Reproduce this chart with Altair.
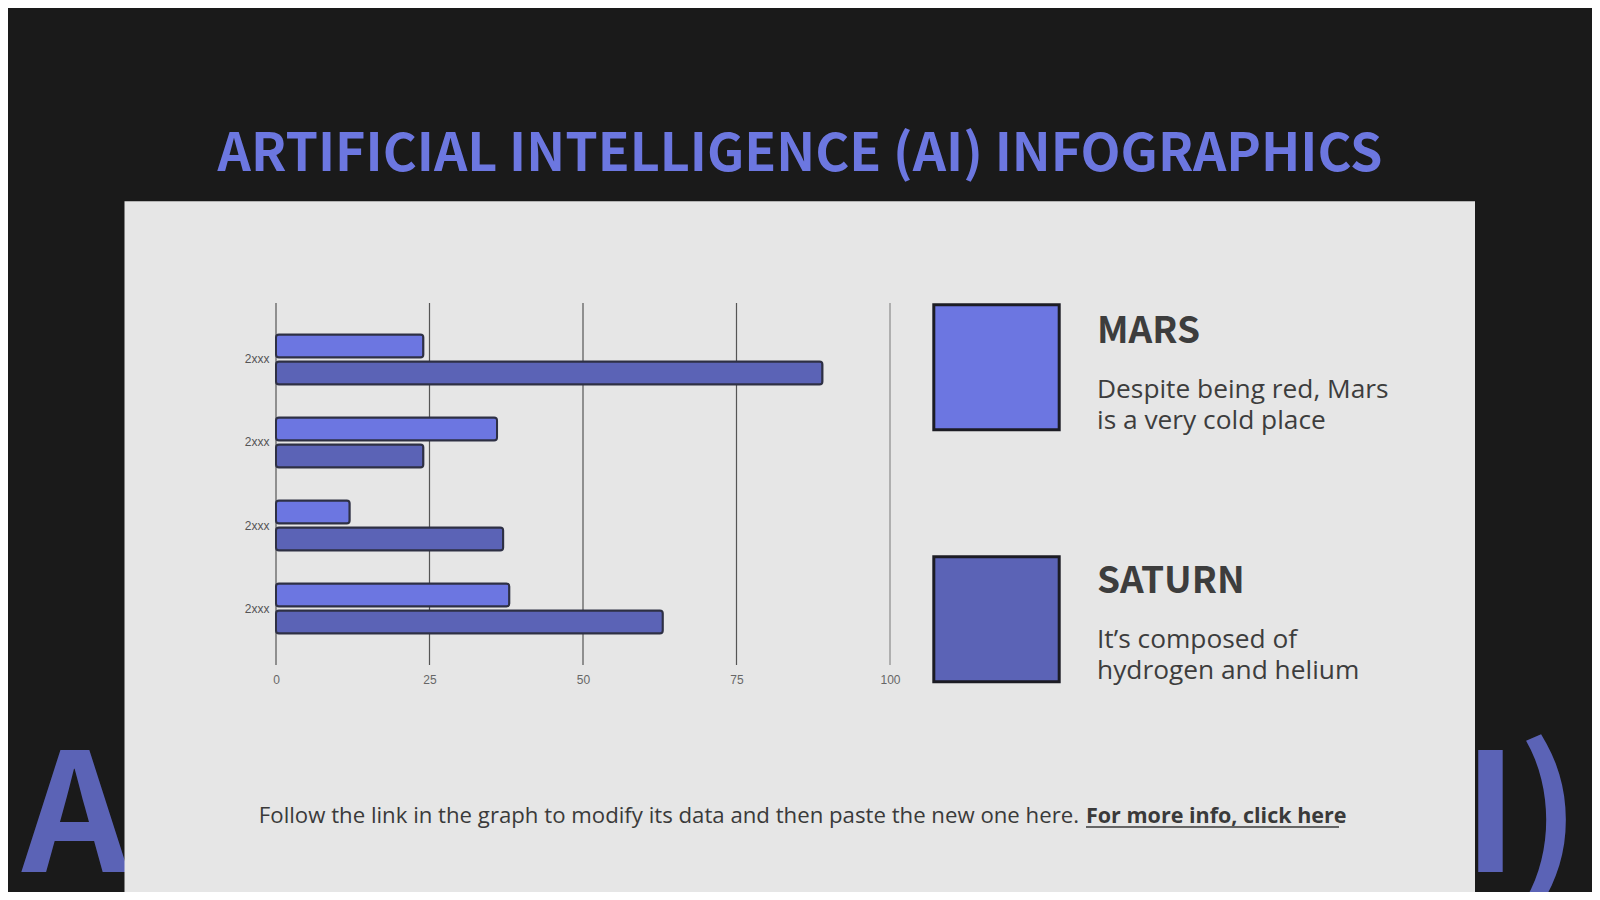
import altair as alt
import pandas as pd

# ---------------- data ----------------
categories = ["2xxx", "2xxx", "2xxx", "2xxx"]
series_names = ["Mars", "Saturn"]
mars_values = [24, 36, 12, 38]
saturn_values = [89, 24, 37, 63]
x_ticks = [0, 25, 50, 75, 100]
series_colors = ["#6c76e1", "#5b63b6"]

title_text = "ARTIFICIAL INTELLIGENCE (AI) INFOGRAPHICS"
bg_words = ["AR", "AI)"]  # visible ends of the big background wordmark
legend_titles = ["MARS", "SATURN"]
legend_lines = [
    ["Despite being red, Mars", "is a very cold place"],
    ["It\u2019s composed of", "hydrogen and helium"],
]
footer_text = "Follow the link in the graph to modify its data and then paste the new one here."
footer_link = "For more info, click here"

# ---------------- layout ----------------
PAD_L, PAD_T = 268, 295
W, H = 614, 362
PAD_R = 1584 - PAD_L - W
PAD_B = 884 - PAD_T - H
OX, OY = 8 + PAD_L, 8 + PAD_T


def px(X):
    return X - OX


def py(Y):
    return Y - OY


HEAD_FONT = "Noto Sans CJK SC, Roboto, sans-serif"
BODY_FONT = "Open Sans, Lato, sans-serif"
AXIS_FONT = "Liberation Sans, Arial, sans-serif"

keys = [f"{i}|{c}" for i, c in enumerate(categories)]
rows = []
for i, k in enumerate(keys):
    rows.append({"key": k, "series": series_names[0], "value": mars_values[i]})
    rows.append({"key": k, "series": series_names[1], "value": saturn_values[i]})
bar_df = pd.DataFrame(rows)
tick_df = pd.DataFrame({"value": x_ticks})
one = pd.DataFrame({"k": [0]})

xscale = alt.Scale(domain=[0, 100], nice=False, zero=True)


def x_axis():
    return alt.Axis(values=x_ticks, title=None, domain=False, ticks=False, grid=False,
                    labelFlush=False, labelFontSize=12, labelColor="#666666",
                    labelFont=AXIS_FONT, labelPadding=9, zindex=2)


# background big text (mostly hidden behind the panel)
BG_SIZE = 165
bg_left = alt.Chart(one).mark_text(
    text=bg_words[0], align="left", baseline="alphabetic", font=HEAD_FONT,
    fontSize=BG_SIZE, fontWeight="bold", color="#5b63b6"
).encode(x=alt.value(px(22)), y=alt.value(py(872)))
bg_right = alt.Chart(one).mark_text(
    text=bg_words[1], align="right", baseline="alphabetic", font=HEAD_FONT,
    fontSize=BG_SIZE, fontWeight="bold", color="#5b63b6"
).encode(x=alt.value(px(1580)), y=alt.value(py(872)))

panel = alt.Chart(one).mark_rect(color="#e6e6e6").encode(
    x=alt.value(px(124.5)), x2=alt.value(px(1475)),
    y=alt.value(py(201.3)), y2=alt.value(py(905)),
)

title = alt.Chart(one).mark_text(
    text=title_text, align="center", baseline="alphabetic", font=HEAD_FONT,
    fontSize=52, fontWeight="bold", color="#6c77e0"
).encode(x=alt.value(px(800)), y=alt.value(py(171)))

grid = alt.Chart(tick_df).mark_rule(strokeWidth=1.2).encode(
    x=alt.X("value:Q", scale=xscale, axis=x_axis()),
    y=alt.value(0), y2=alt.value(H),
    color=alt.condition("datum.value == 100", alt.value("#8a8a8a"), alt.value("#555555")),
)

bars = alt.Chart(bar_df).mark_bar(
    stroke="#2e3044", strokeWidth=2, cornerRadius=3
).encode(
    x=alt.X("value:Q", scale=xscale, axis=x_axis()),
    y=alt.Y("key:N", sort=keys,
            scale=alt.Scale(paddingInner=0.3976, paddingOuter=0.3795),
            axis=alt.Axis(title=None, labelExpr="split(datum.value, '|')[1]", domain=False,
                          ticks=False, grid=False, labelFontSize=12, labelColor="#555555",
                          labelFont=AXIS_FONT, labelPadding=7, zindex=2)),
    yOffset=alt.YOffset("series:N", sort=series_names,
                        scale=alt.Scale(paddingInner=0.148, paddingOuter=0)),
    color=alt.Color("series:N", scale=alt.Scale(domain=series_names, range=series_colors),
                    legend=None),
)

layers = [bg_left, bg_right, panel, title, grid, bars]

# legend blocks
sq_tops = [304.8, 556.8]
title_base = [342.5, 593]
line_base = [397.5, 647.5]
for i in range(2):
    layers.append(
        alt.Chart(one).mark_rect(fill=series_colors[i], stroke="#1c1c24", strokeWidth=3).encode(
            x=alt.value(px(933.8)), x2=alt.value(px(1059.2)),
            y=alt.value(py(sq_tops[i])), y2=alt.value(py(sq_tops[i] + 125)),
        )
    )
    layers.append(
        alt.Chart(one).mark_text(
            text=legend_titles[i], align="left", baseline="alphabetic", font=HEAD_FONT,
            fontSize=37, fontWeight="bold", color="#3d3d3d"
        ).encode(x=alt.value(px(1097)), y=alt.value(py(title_base[i])))
    )
    layers.append(
        alt.Chart(one).mark_text(
            text=legend_lines[i], align="left", baseline="alphabetic", font=BODY_FONT,
            fontSize=26.3, lineHeight=31, color="#3d3d3d"
        ).encode(x=alt.value(px(1097)), y=alt.value(py(line_base[i])))
    )

# footer
layers.append(
    alt.Chart(one).mark_text(
        text=footer_text, align="right", baseline="alphabetic", font=BODY_FONT,
        fontSize=22.2, color="#3a3a3a"
    ).encode(x=alt.value(px(1079)), y=alt.value(py(823)))
)
layers.append(
    alt.Chart(one).mark_text(
        text=footer_link, align="left", baseline="alphabetic", font=BODY_FONT,
        fontSize=21.5, fontWeight="bold", color="#3a3a3a"
    ).encode(x=alt.value(px(1086)), y=alt.value(py(823)))
)
layers.append(
    alt.Chart(one).mark_rule(color="#3a3a3a", strokeWidth=1.6).encode(
        x=alt.value(px(1086)), x2=alt.value(px(1339)), y=alt.value(py(827))
    )
)

chart = alt.layer(*layers).properties(
    width=W, height=H,
    autosize=alt.AutoSizeParams(type="none"),
    padding={"left": PAD_L, "top": PAD_T, "right": PAD_R, "bottom": PAD_B},
    background="#1a1a1a",
).configure_view(stroke=None)

chart.save("out.html", embed_options={"renderer": "svg", "actions": False})
